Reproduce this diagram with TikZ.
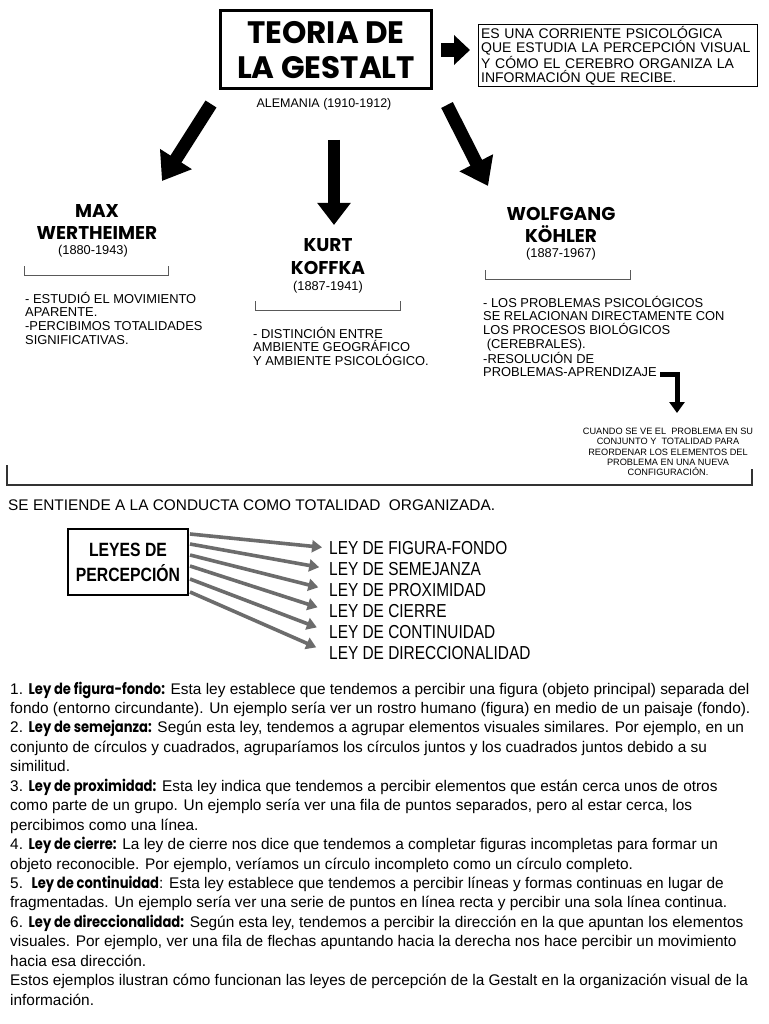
\documentclass[tikz,border=0pt]{standalone}
\usepackage{fontspec}
\setmainfont{Liberation Sans}
\newfontfamily\geo{Poppins}
\newfontfamily\narrow[FakeStretch=0.82]{Liberation Sans}
\newfontfamily\geonarrow[FakeStretch=0.85]{Poppins}
\usetikzlibrary{arrows.meta,calc}
\newcommand\leyb[1]{{\geonarrow\bfseries #1}}
\tikzset{
  hdr/.style={font=\geo\bfseries\fontsize{18.5}{22}\selectfont, anchor=base, inner sep=0pt, text height=13.5pt, text depth=0pt},
  dates/.style={font=\fontsize{12.8}{14}\selectfont, anchor=base, inner sep=0pt, text height=9pt, text depth=1.5pt},
  txt/.style={font=\fontsize{12.9}{13.6}\selectfont, align=left, inner sep=0pt, anchor=north west},
  small/.style={font=\fontsize{9.2}{10.2}\selectfont, align=center, inner sep=0pt},
  blk/.style={line width=13pt, -{Triangle[length=26pt,width=36pt]}},
  grayarr/.style={draw=gray!85!black, line width=3.6pt, -{Triangle[length=10pt,width=12pt]}},
  brk/.style={draw=gray!70!black, line width=1pt},
  law/.style={font=\narrow\fontsize{18.8}{20}\selectfont, anchor=west, inner sep=0pt},
  para/.style={font=\fontsize{15.4}{18}\selectfont, anchor=base west, inner sep=0pt}
}
\begin{document}
\begin{tikzpicture}[x=1pt,y=-1pt]
\useasboundingbox (0,0) rectangle (768,1024);
\fill[white] (0,0) rectangle (768,1024);

% title
\node[draw, line width=3pt, minimum width=211pt, minimum height=78pt,
      font=\geo\bfseries\fontsize{31}{35}\selectfont, align=center] (title) at (326,50) {TEORIA DE\\LA GESTALT};
\node[draw, line width=1.3pt, anchor=north west, minimum width=279pt, minimum height=58pt,
      text width=274pt, inner xsep=2.5pt, inner ysep=2pt, align=left,
      font=\fontsize{14}{13.8}\selectfont] (desc) at (478,24)
  {ES UNA CORRIENTE PSICOLÓGICA\\QUE ESTUDIA LA PERCEPCIÓN VISUAL\\Y CÓMO EL CEREBRO ORGANIZA LA\\INFORMACIÓN QUE RECIBE.};
\draw[line width=14pt, -{Triangle[length=16pt,width=29pt]}, shorten <=8pt, shorten >=8pt] (title.east) -- (desc.west |- title.east);
\node[font=\fontsize{12.5}{14}\selectfont, inner sep=0pt] (alem) at (324,104) {ALEMANIA (1910-1912)};

% names
\node[hdr] (mw1) at (97,217.5) {MAX};
\node[hdr] (mw2) at (97,239.5) {WERTHEIMER};
\node[dates] (mwd) at (93,254.5) {(1880-1943)};
\node[hdr] (kk1) at (328,251.5) {KURT};
\node[hdr] (kk2) at (328,274) {KOFFKA};
\node[dates] (kkd) at (328,290.5) {(1887-1941)};
\node[hdr] (wk1) at (561,220.5) {WOLFGANG};
\node[hdr] (wk2) at (561,242.5) {KÖHLER};
\node[dates] (wkd) at (561,257.5) {(1887-1967)};

% big arrows
\coordinate (a1s) at (211,104); \coordinate (a1e) at (162,181);
\coordinate (a2s) at (334,140); \coordinate (a2e) at (334,225);
\coordinate (a3s) at (447,105); \coordinate (a3e) at (488,186);
\draw[blk] (a1s) -- (a1e);
\draw[line width=12pt, -{Triangle[length=22pt,width=32pt]}] (a2s) -- (a2e);
\draw[blk] (a3s) -- (a3e);

% brackets
\draw[brk] (24,266) -- (24,275) -- (168,275) -- (168,266);
\draw[brk] (255,301) -- (255,310) -- (400,310) -- (400,301);
\draw[brk] (485,270) -- (485,279) -- (630,279) -- (630,270);

% descriptions
\node[txt] (mwt) at (25,292) {- ESTUDIÓ EL MOVIMIENTO\\APARENTE.\\-PERCIBIMOS TOTALIDADES\\SIGNIFICATIVAS.};
\node[txt] (kkt) at (253,327) {- DISTINCIÓN ENTRE\\AMBIENTE GEOGRÁFICO\\Y AMBIENTE PSICOLÓGICO.};
\node[txt] (wkt) at (483,296) {- LOS PROBLEMAS PSICOLÓGICOS\\SE RELACIONAN DIRECTAMENTE CON\\LOS PROCESOS BIOLÓGICOS\\\ (CEREBRALES).\\-RESOLUCIÓN DE\\PROBLEMAS-APRENDIZAJE};

% elbow arrow
\coordinate (el0) at (660,374.5);
\node[small] (cuando) at (668,452) {CUANDO SE VE EL\ \ PROBLEMA EN SU\\CONJUNTO Y\ \ TOTALIDAD PARA\\REORDENAR LOS ELEMENTOS DEL\\PROBLEMA EN UNA NUEVA\\CONFIGURACIÓN.};
\draw[line width=5pt, -{Triangle[length=11pt,width=15pt]}] (el0) -| (677,413);

% big bracket
\draw[draw=gray!40!black, line width=2pt] (7,465) -- (7,485) -- (752,485) -- (752,469);

\node[font=\fontsize{15.4}{17}\selectfont, anchor=west, inner sep=0pt] (conducta) at (8,505) {SE ENTIENDE A LA CONDUCTA COMO TOTALIDAD\ \ ORGANIZADA.};

% leyes box
\node[draw, line width=1.2pt, minimum width=120pt, minimum height=66pt, align=center,
      font=\narrow\bfseries\fontsize{19.2}{25}\selectfont] (leyes) at (128,562) {LEYES DE\\PERCEPCIÓN};

\node[law] (l1) at (329,548) {LEY DE FIGURA-FONDO};
\node[law] (l2) at (329,569) {LEY DE SEMEJANZA};
\node[law] (l3) at (329,590) {LEY DE PROXIMIDAD};
\node[law] (l4) at (329,611) {LEY DE CIERRE};
\node[law] (l5) at (329,632) {LEY DE CONTINUIDAD};
\node[law] (l6) at (329,653) {LEY DE DIRECCIONALIDAD};

\coordinate (s1) at (190,534);
\coordinate (s2) at (190,544);
\coordinate (s3) at (190,555);
\coordinate (s4) at (190,566);
\coordinate (s5) at (190,579);
\coordinate (s6) at (190,592);
\draw[grayarr, shorten >=7pt] (s1) -- (l1.west);
\draw[grayarr, shorten >=10pt] (s2) -- (l2.west);
\draw[grayarr, shorten >=11pt] (s3) -- (l3.west);
\draw[grayarr, shorten >=12pt] (s4) -- (l4.west);
\draw[grayarr, shorten >=13pt] (s5) -- (l5.west);
\draw[grayarr, shorten >=14pt] (s6) -- (l6.west);

% paragraphs
\node[para] (p1) at (10,694) {1. \leyb{Ley de figura-fondo:} Esta ley establece que tendemos a percibir una figura (objeto principal) separada del};
\node[para] (p2) at (10,713.4) {fondo (entorno circundante). Un ejemplo sería ver un rostro humano (figura) en medio de un paisaje (fondo).};
\node[para] (p3) at (10,732.9) {2. \leyb{Ley de semejanza:} Según esta ley, tendemos a agrupar elementos visuales similares. Por ejemplo, en un};
\node[para] (p4) at (10,752.3) {conjunto de círculos y cuadrados, agruparíamos los círculos juntos y los cuadrados juntos debido a su};
\node[para] (p5) at (10,771.8) {similitud.};
\node[para] (p6) at (10,791.2) {3. \leyb{Ley de proximidad:} Esta ley indica que tendemos a percibir elementos que están cerca unos de otros};
\node[para] (p7) at (10,810.6) {como parte de un grupo. Un ejemplo sería ver una fila de puntos separados, pero al estar cerca, los};
\node[para] (p8) at (10,830.1) {percibimos como una línea.};
\node[para] (p9) at (10,849.5) {4. \leyb{Ley de cierre:} La ley de cierre nos dice que tendemos a completar figuras incompletas para formar un};
\node[para] (p10) at (10,869) {objeto reconocible. Por ejemplo, veríamos un círculo incompleto como un círculo completo.};
\node[para] (p11) at (10,888.4) {5.\ \ \leyb{Ley de continuidad}: Esta ley establece que tendemos a percibir líneas y formas continuas en lugar de};
\node[para] (p12) at (10,907.8) {fragmentadas. Un ejemplo sería ver una serie de puntos en línea recta y percibir una sola línea continua.};
\node[para] (p13) at (10,927.3) {6. \leyb{Ley de direccionalidad:} Según esta ley, tendemos a percibir la dirección en la que apuntan los elementos};
\node[para] (p14) at (10,946.7) {visuales. Por ejemplo, ver una fila de flechas apuntando hacia la derecha nos hace percibir un movimiento};
\node[para] (p15) at (10,966.2) {hacia esa dirección.};
\node[para] (p16) at (10,985.6) {Estos ejemplos ilustran cómo funcionan las leyes de percepción de la Gestalt en la organización visual de la};
\node[para] (p17) at (10,1005) {información.};
\end{tikzpicture}
\end{document}
